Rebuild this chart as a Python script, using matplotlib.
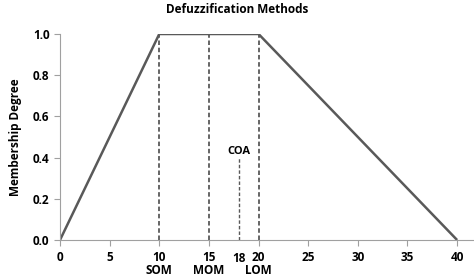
import matplotlib.pyplot as plt

# trapezoid membership function
x_pts = [0, 10, 20, 40]
y_pts = [0, 1, 1, 0]

# defuzzification markers
method_x = [10, 15, 20]
method_names = ["SOM", "MOM", "LOM"]
coa_x = 18
coa_y = 0.4

x_ticks = [0, 5, 10, 15, 20, 25, 30, 35, 40]
y_ticks = [0.0, 0.2, 0.4, 0.6, 0.8, 1.0]

plt.rcParams['font.family'] = ['Open Sans', 'DejaVu Sans']
plt.rcParams['font.weight'] = 'bold'

fig = plt.figure(figsize=(4.74, 2.77), dpi=100)
ax = fig.add_axes([60/474, 37/277, 1 - 60/474, 206/277])

ax.plot(x_pts, y_pts, color="#595959", lw=1.8, solid_capstyle="butt")
for xv in method_x:
    ax.plot([xv, xv], [0, 1], color="#595959", lw=1.3, ls=(0, (2.5, 1.5)))
ax.plot([coa_x, coa_x], [0, coa_y], color="#595959", lw=1.0, ls=(0, (2.5, 1.5)))

ax.set_xlim(0, 41.7)
ax.set_ylim(0, 1)
ax.set_xticks(x_ticks)
ax.set_yticks(y_ticks)
ax.set_yticklabels([f"{v:.1f}" for v in y_ticks])
ax.tick_params(axis="both", labelsize=8.5, color="#a0a0a0", length=4, width=0.8)
ax.tick_params(axis="x", pad=4)

for s in ["top", "right"]:
    ax.spines[s].set_visible(False)
for s in ["left", "bottom"]:
    ax.spines[s].set_color("#a0a0a0")
    ax.spines[s].set_linewidth(0.8)

for xv, name in zip(method_x, method_names):
    ax.text(xv, -0.147, name, ha="center", va="center", fontsize=8.5, fontweight="bold")
ax.text(coa_x, -0.09, str(coa_x), ha="center", va="center", fontsize=8.5, fontweight="bold")
ax.text(coa_x, coa_y + 0.005, "COA", ha="center", va="bottom", fontsize=8, fontweight="bold")

ax.set_ylabel("Membership Degree", fontsize=8.5, fontweight="bold", labelpad=8)
fig.text(0.5, 0.965, "Defuzzification Methods", ha="center", va="center", fontsize=8.5, fontweight="bold")

fig.savefig("out.png", dpi=100)
